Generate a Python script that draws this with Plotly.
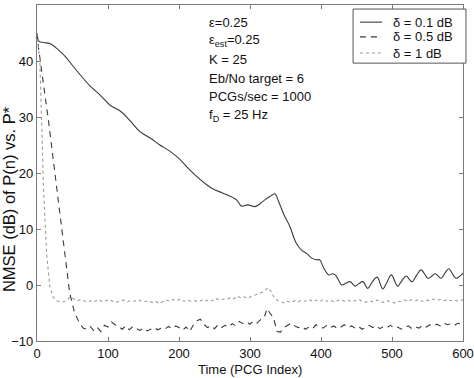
import plotly.graph_objects as go

# delta = 0.1 dB (solid)
x_a = [0, 3, 10, 20, 30, 40, 50, 61, 75, 89, 103, 119, 132, 145, 160, 173, 186, 199, 218, 239, 250, 262,
       281, 288, 297, 307, 315, 321, 328, 335, 340, 348, 356, 365, 373, 380, 387, 393, 398, 404, 411, 416,
       420, 425, 429, 435, 441, 448, 453, 459, 466, 472, 479, 487, 493, 499, 508, 514, 520, 528, 535, 541,
       551, 561, 569, 575, 580, 590, 600]
y_a = [44.5, 43.5, 43.3, 43.0, 42.0, 40.8, 39.2, 37.5, 35.5, 33.9, 32.1, 30.9, 29.2, 27.4, 26.2, 25.0, 24.0,
       22.7, 20.2, 17.9, 17.0, 16.4, 15.2, 14.1, 14.3, 14.0, 14.6, 15.2, 15.8, 16.3, 15.0, 12.5, 10.5, 7.5,
       6.2, 5.6, 4.8, 4.5, 4.5, 3.0, 1.8, 2.0, 1.8, 0.8, 0.0, 0.3, 0.6, -0.2, 0.2, 0.6, -0.6, 0.5, 1.4, -0.7,
       0.5, 1.8, -0.2, 0.8, 1.6, 0.6, 1.8, 2.7, 1.2, 2.0, 1.2, 2.2, 2.9, 1.2, 2.1]

# delta = 0.5 dB (dashed)
x_b = [0, 2, 16, 28, 39, 46, 53, 60, 65, 70, 75, 80, 85, 90, 95, 100, 105, 110, 115, 120, 125, 130, 135,
       140, 145, 150, 155, 160, 165, 170, 175, 180, 185, 190, 195, 200, 205, 210, 215, 220, 225, 230, 235,
       240, 245, 250, 255, 260, 265, 270, 275, 280, 285, 290, 295, 300, 305, 310, 315, 320, 324, 328, 333,
       338, 343, 348, 353, 358, 363, 368, 373, 378, 383, 388, 393, 398, 403, 408, 413, 418, 423, 428, 433,
       438, 443, 448, 453, 458, 463, 468, 473, 478, 483, 488, 493, 498, 503, 508, 513, 518, 523, 528, 533,
       538, 543, 548, 553, 558, 563, 568, 573, 578, 583, 588, 593, 598, 600]
y_b = [45.0, 42.5, 29.5, 17.5, 5.7, -1.4, -5.0, -6.8, -7.7, -7.9, -7.4, -8.2, -7.6, -8.3, -7.2, -7.5, -6.6,
       -7.1, -7.4, -7.9, -7.3, -8.0, -7.4, -7.8, -8.1, -7.7, -8.2, -7.9, -7.6, -8.0, -7.7, -7.9, -7.4, -7.8,
       -7.3, -7.6, -8.1, -7.5, -8.3, -7.2, -6.4, -6.1, -7.0, -7.6, -7.3, -7.8, -7.1, -7.6, -7.2, -7.5, -6.9,
       -7.3, -6.5, -6.9, -6.6, -7.0, -6.4, -6.8, -6.2, -5.8, -4.2, -5.0, -5.8, -8.3, -8.4, -7.6, -7.2, -6.8,
       -7.3, -7.6, -7.4, -7.9, -7.5, -7.8, -7.1, -7.4, -7.7, -7.2, -7.6, -7.3, -7.8, -7.5, -7.1, -7.6, -7.3,
       -7.7, -7.4, -7.9, -7.5, -7.2, -7.6, -7.3, -7.8, -7.4, -7.6, -7.2, -7.7, -7.5, -7.9, -7.6, -7.3, -7.8,
       -7.5, -7.7, -7.2, -7.5, -7.1, -7.4, -7.0, -7.3, -6.8, -7.1, -6.9, -7.2, -6.8, -7.1, -7.0]

# delta = 1 dB (dotted)
x_c = [0, 2, 4, 6.5, 9, 13.6, 18, 23, 28, 33, 38, 43, 47, 52, 57, 62, 67, 72, 77, 82, 87, 92, 97, 102, 107,
       112, 117, 122, 127, 132, 137, 142, 147, 152, 157, 162, 167, 172, 177, 182, 187, 192, 197, 202, 207,
       212, 217, 222, 227, 232, 237, 242, 247, 252, 257, 262, 267, 272, 277, 282, 287, 292, 297, 302, 307,
       312, 317, 322, 326, 330, 334, 338, 343, 348, 353, 358, 363, 368, 373, 378, 383, 388, 393, 398, 403,
       408, 413, 418, 423, 428, 433, 438, 443, 448, 453, 458, 463, 468, 473, 478, 483, 488, 493, 498, 503,
       508, 513, 518, 523, 528, 533, 538, 543, 548, 553, 558, 563, 568, 573, 578, 583, 588, 593, 598, 600]
y_c = [45.0, 43.0, 40.0, 29.5, 17.5, 5.6, -0.3, -2.2, -2.8, -3.0, -3.0, -2.6, -2.1, -2.5, -2.8, -2.6, -2.9,
       -3.1, -2.7, -2.9, -2.6, -3.0, -2.8, -2.6, -2.9, -3.1, -2.8, -2.7, -3.0, -2.8, -2.9, -2.6, -2.9, -3.0,
       -2.8, -3.1, -2.9, -3.3, -3.0, -2.7, -2.9, -2.6, -2.8, -2.5, -2.9, -2.7, -2.9, -2.8, -3.0, -2.7, -2.9,
       -2.6, -2.8, -2.4, -2.7, -2.5, -2.6, -2.3, -2.5, -2.0, -2.3, -2.1, -2.4, -2.0, -1.8, -1.5, -1.3, -0.8,
       -0.5, -1.2, -2.2, -2.7, -3.0, -3.2, -2.9, -3.1, -2.8, -3.0, -2.7, -2.9, -2.6, -2.9, -2.7, -3.0, -2.6,
       -2.9, -2.7, -3.0, -2.8, -2.6, -2.9, -2.7, -3.0, -2.8, -2.6, -2.9, -3.1, -2.8, -3.0, -2.7, -2.9, -3.1,
       -2.8, -3.0, -3.2, -2.9, -3.0, -2.7, -2.9, -2.6, -2.8, -2.6, -2.9, -2.7, -2.8, -2.5, -2.7, -2.6, -2.8,
       -2.6, -2.8, -2.7, -2.9, -2.7, -2.7]

names = ["δ = 0.1 dB", "δ = 0.5 dB", "δ = 1 dB"]
x_ticks = [0, 100, 200, 300, 400, 500, 600]
y_ticks = [-10, 0, 10, 20, 30, 40, 50]
params = ["ε=0.25", "ε<sub>est</sub>=0.25", "K = 25", "Eb/No target = 6", "PCGs/sec = 1000",
          "f<sub>D</sub> = 25 Hz"]
x_title = "Time (PCG Index)"
y_title = "NMSE (dB) of P(n) vs. P*"

FONT = "Liberation Sans, Arial, Helvetica, sans-serif"
colors = ["#3a3a3a", "#3a3a3a", "#9a9a9a"]
dashes = ["solid", "6px,5px", "dot"]
shapes_line = ["spline", "linear", "linear"]

fig = go.Figure()
for xs, ys, nm, c, d, sh in zip([x_a, x_b, x_c], [y_a, y_b, y_c], names, colors, dashes, shapes_line):
    fig.add_trace(go.Scatter(x=xs, y=ys, mode="lines", name=nm, line_shape=sh, showlegend=False,
                             line=dict(color=c, width=1.1, dash=d)))

ann_y = [46.8, 43.6, 40.2, 36.8, 33.6, 30.2]
for t, yy in zip(params, ann_y):
    fig.add_annotation(x=239, y=yy, xref="x", yref="y", text=t, showarrow=False,
                       xanchor="left", yanchor="middle",
                       font=dict(family=FONT, size=13, color="#111"))

# axis titles
fig.add_annotation(x=0.5, y=-0.085, xref="paper", yref="paper", text=x_title, showarrow=False,
                   xanchor="center", yanchor="middle", font=dict(family=FONT, size=13, color="#111"))
fig.add_annotation(x=-0.066, y=0.422, xref="paper", yref="paper", text=y_title, showarrow=False,
                   textangle=-90, xanchor="center", yanchor="middle",
                   font=dict(family=FONT, size=16.5, color="#111"))

# legend box (compact, MATLAB-like)
fig.add_shape(type="rect", xref="paper", yref="paper", x0=0.742, x1=1.007, y0=0.827, y1=0.988,
              line=dict(color="#555", width=1), fillcolor="white", layer="above")
leg_y = [0.949, 0.905, 0.857]
for nm, c, d, ly in zip(names, colors, dashes, leg_y):
    fig.add_shape(type="line", xref="paper", yref="paper", x0=0.758, x1=0.810, y0=ly, y1=ly,
                  line=dict(color=c, width=1.1, dash=d), layer="above")
    fig.add_annotation(x=0.831, y=ly, xref="paper", yref="paper", text=nm, showarrow=False,
                       xanchor="left", yanchor="middle", font=dict(family=FONT, size=13, color="#111"))

axis_common = dict(showgrid=False, zeroline=False, showline=True, linecolor="#7a7a7a", linewidth=1.3,
                   mirror="ticks", ticks="inside", ticklen=4, tickcolor="#7a7a7a", automargin=False,
                   tickfont=dict(family=FONT, size=13, color="#111"))

fig.update_layout(
    width=474, height=378,
    margin=dict(l=37, r=11, t=5, b=37, autoexpand=False),
    plot_bgcolor="white", paper_bgcolor="white",
    font=dict(family=FONT, size=13, color="#111"),
    xaxis=dict(range=[0, 600], tickvals=x_ticks, **axis_common),
    yaxis=dict(range=[-10, 50], tickvals=y_ticks, **axis_common),
    showlegend=False,
)

fig.write_html("out.html", config={"displayModeBar": False},
               post_script="document.body.style.margin='0';document.body.style.overflow='hidden';")
